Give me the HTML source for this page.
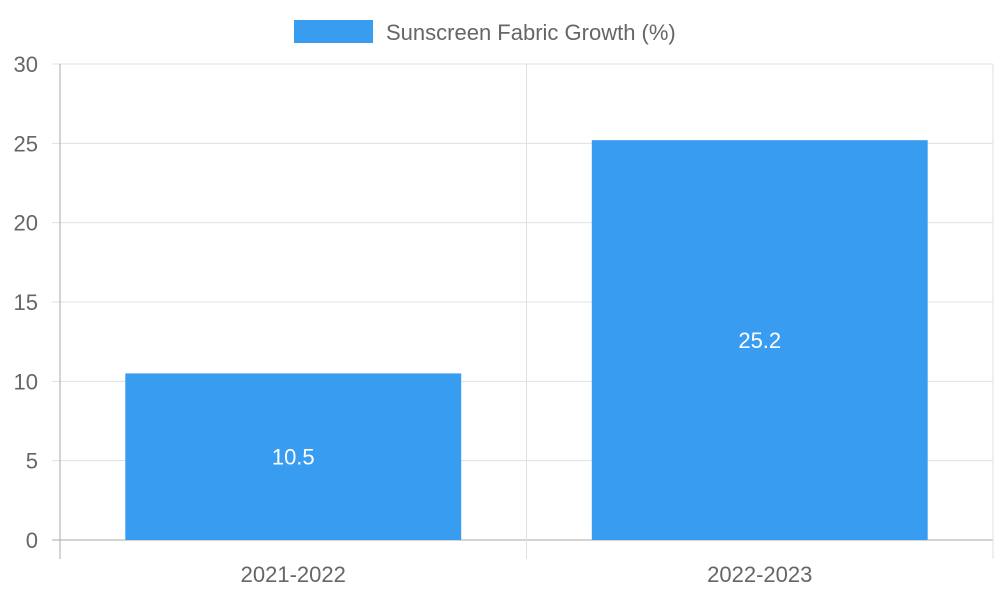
<!DOCTYPE html>
<html><head><meta charset="utf-8"><style>
html,body{margin:0;padding:0;background:#fff;}
svg text{font-family:"Liberation Sans",sans-serif;}
</style></head><body>
<svg id="chart" width="1000" height="600" xmlns="http://www.w3.org/2000/svg">
<g>
<rect x="294" y="20" width="79" height="23" fill="#389cf0"/>
<text x="386" y="40" font-size="22" fill="#666">Sunscreen Fabric Growth (%)</text>
</g>
<g id="grid"></g>
<g id="bars"></g>
<g id="axes"></g>
</svg>
<script>
const categories = ["2021-2022", "2022-2023"];
const values = [10.5, 25.2];
const yTicks = [0, 5, 10, 15, 20, 25, 30];
const NS = "http://www.w3.org/2000/svg";
const L = 60, R = 993, T = 64, B = 540, yMax = 30;
const catW = (R - L) / categories.length;
function y(v){ return B - (v / yMax) * (B - T); }
function xc(i){ return L + catW * (i + 0.5); }
function mk(tag, attrs, parent){ const e = document.createElementNS(NS, tag); for (const k in attrs) e.setAttribute(k, attrs[k]); parent.appendChild(e); return e; }
const grid = document.getElementById("grid"), bars = document.getElementById("bars"), axes = document.getElementById("axes");
yTicks.forEach(t => {
  const ln = mk("line", {x1: L - 8, x2: R, y1: y(t), y2: y(t), stroke: t === 0 ? "#aaa" : "#e0e0e0", "stroke-width": 1}, grid);
  
  
  const tx = mk("text", {x: 38, y: y(t) + 8, "font-size": 22, fill: "#666", "text-anchor": "end"}, axes);
  tx.textContent = t;
  
  
});
for (let i = 0; i <= categories.length; i++) {
  const gx = L + catW * i;
  const ln = mk("line", {x1: gx, x2: gx, y1: T, y2: B + 19, stroke: i === 0 ? "#aaa" : "#e0e0e0", "stroke-width": 1}, grid);
  
  
}
categories.forEach((c, i) => {
  const bw = catW * 0.72;
  const r = mk("rect", {x: xc(i) - bw / 2, y: y(values[i]), width: bw, height: B - y(values[i]), fill: "#389cf0"}, bars);
  
  
  const v = mk("text", {x: xc(i), y: (y(values[i]) + B) / 2 + 8, "font-size": 22, fill: "#fff", "text-anchor": "middle"}, bars);
  v.textContent = values[i];
  
  
  const tx = mk("text", {x: xc(i), y: 582, "font-size": 22, fill: "#666", "text-anchor": "middle"}, axes);
  tx.textContent = c;
  
  
});
</script>
</body></html>
